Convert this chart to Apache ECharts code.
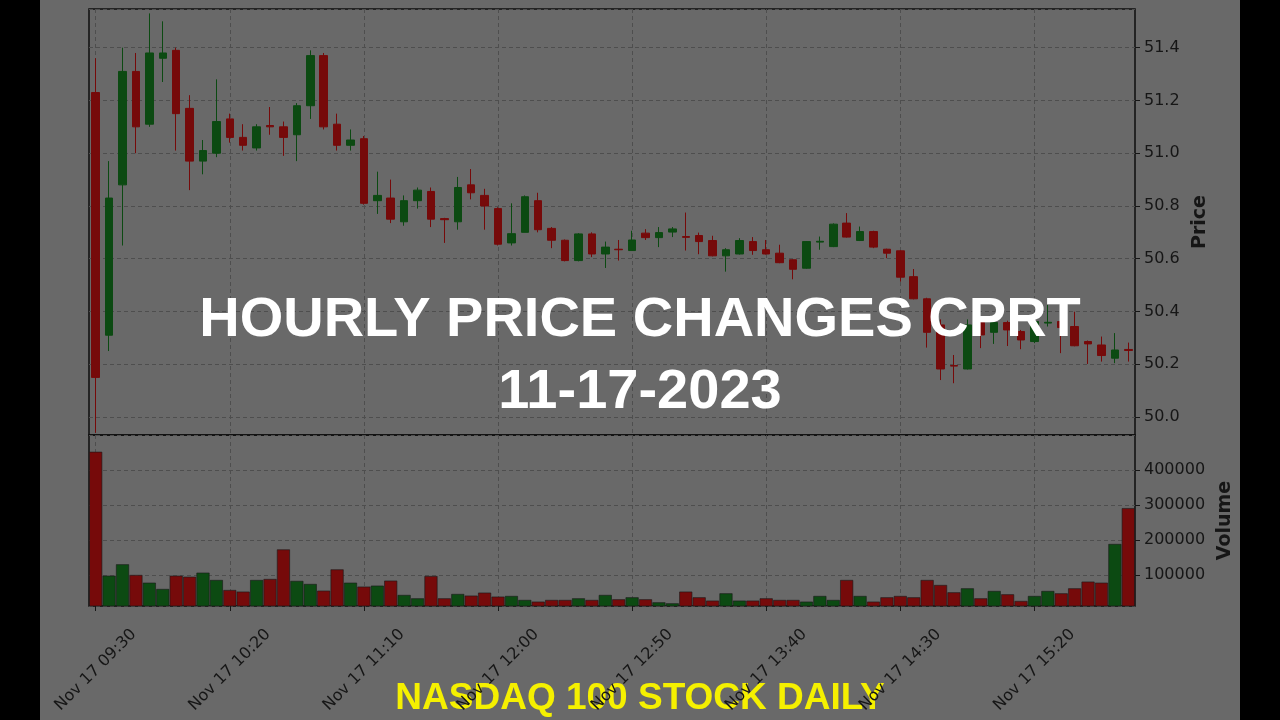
<!DOCTYPE html>
<html>
<head>
<meta charset="utf-8">
<script src="https://cdn.jsdelivr.net/npm/echarts@6/dist/echarts.min.js"></script>
<style>
html,body{margin:0;padding:0;background:#000;}
#c{width:1280px;height:720px;}
</style>
</head>
<body>
<div id="c"></div>
<script>
const times = ["09:30","09:35","09:40","09:45","09:50","09:55","10:00","10:05","10:10","10:15",
"10:20","10:25","10:30","10:35","10:40","10:45","10:50","10:55","11:00","11:05",
"11:10","11:15","11:20","11:25","11:30","11:35","11:40","11:45","11:50","11:55",
"12:00","12:05","12:10","12:15","12:20","12:25","12:30","12:35","12:40","12:45",
"12:50","12:55","13:00","13:05","13:10","13:15","13:20","13:25","13:30","13:35",
"13:40","13:45","13:50","13:55","14:00","14:05","14:10","14:15","14:20","14:25",
"14:30","14:35","14:40","14:45","14:50","14:55","15:00","15:05","15:10","15:15",
"15:20","15:25","15:30","15:35","15:40","15:45","15:50","15:55"];
const categories = times.map(t => "Nov 17 " + t);

const opens = [51.23,50.31,50.88,51.31,51.11,51.36,51.39,51.17,50.97,51.00,
51.13,51.06,51.02,51.105,51.10,51.07,51.18,51.37,51.11,51.03,
51.055,50.82,50.83,50.74,50.82,50.855,50.752,50.74,50.88,50.84,
50.79,50.66,50.70,50.82,50.715,50.67,50.593,50.694,50.618,50.636,
50.631,50.697,50.680,50.701,50.684,50.688,50.669,50.611,50.618,50.665,
50.634,50.621,50.596,50.564,50.663,50.646,50.735,50.669,50.703,50.636,
50.630,50.532,50.448,50.349,50.195,50.182,50.358,50.321,50.358,50.324,
50.286,50.356,50.362,50.343,50.286,50.273,50.223,50.256];
const closes = [50.15,50.83,51.31,51.10,51.38,51.38,51.15,50.97,51.01,51.12,
51.06,51.03,51.10,51.10,51.06,51.18,51.37,51.10,51.03,51.05,
50.81,50.84,50.75,50.82,50.86,50.75,50.748,50.87,50.85,50.80,
50.655,50.695,50.835,50.71,50.67,50.593,50.694,50.618,50.644,50.634,
50.671,50.680,50.699,50.713,50.681,50.665,50.611,50.634,50.669,50.631,
50.618,50.585,50.560,50.665,50.666,50.731,50.682,50.703,50.644,50.621,
50.530,50.448,50.321,50.182,50.193,50.349,50.311,50.358,50.330,50.292,
50.362,50.359,50.339,50.270,50.277,50.233,50.254,50.252];
const lows = [49.94,50.25,50.65,51.00,51.10,51.27,51.01,50.86,50.92,50.985,
51.04,51.01,51.01,51.07,50.99,50.97,51.13,51.09,51.01,51.01,
50.805,50.77,50.735,50.725,50.79,50.72,50.66,50.71,50.825,50.71,
50.65,50.65,50.70,50.70,50.64,50.59,50.59,50.606,50.565,50.593,
50.631,50.671,50.644,50.682,50.631,50.617,50.609,50.551,50.616,50.615,
50.616,50.583,50.522,50.562,50.634,50.644,50.680,50.667,50.640,50.602,
50.513,50.446,50.263,50.140,50.128,50.180,50.261,50.277,50.269,50.257,
50.280,50.343,50.242,50.268,50.201,50.210,50.204,50.210];
const highs = [51.36,50.97,51.40,51.38,51.53,51.50,51.40,51.22,51.05,51.28,
51.15,51.11,51.11,51.175,51.12,51.19,51.39,51.38,51.15,51.09,
51.065,50.93,50.90,50.84,50.87,50.87,50.755,50.91,50.94,50.865,
50.795,50.81,50.84,50.85,50.72,50.673,50.697,50.70,50.665,50.671,
50.706,50.712,50.72,50.72,50.775,50.699,50.687,50.640,50.678,50.682,
50.671,50.653,50.598,50.667,50.684,50.734,50.773,50.722,50.706,50.638,
50.632,50.561,50.452,50.37,50.235,50.37,50.37,50.37,50.365,50.33,
50.37,50.425,50.37,50.399,50.29,50.305,50.318,50.282];
const volumes = [452000,98000,130500,100000,78000,60000,98000,95000,106600,85700,
57000,52400,85700,88600,173000,83000,74300,55200,116000,78000,
66700,69500,83800,42900,33300,97000,33300,45700,41000,49500,
38100,40000,28600,23800,28600,28600,33300,28600,42900,30500,
36200,30500,21900,19000,52400,36200,26700,47600,26700,26700,
33300,28600,28600,23800,40000,28600,85700,40000,23800,36200,
40000,36200,85700,71400,50500,61900,33300,54300,44800,25700,
40000,54300,47600,61900,81000,78000,188600,291000];
const priceTicks = ["50.0","50.2","50.4","50.6","50.8","51.0","51.2","51.4"];
const titleLine1 = "HOURLY PRICE CHANGES CPRT";
const titleLine2 = "11-17-2023";
const footer = "NASDAQ 100 STOCK DAILY";

const UP = '#0c4a12';
const DOWN = '#760a0a';
const TXT = '#161616';
const GRIDC = '#4e4e4e';

const candleData = opens.map((o, i) => [o, closes[i], lows[i], highs[i]]);
const volData = volumes.map((v, i) => ({
  value: v,
  itemStyle: { color: closes[i] >= opens[i] ? UP : DOWN }
}));

const chart = echarts.init(document.getElementById('c'), null, { renderer: 'canvas' });
const font = 'DejaVu Sans';
const gridSplit = { show: true, interval: 9, alignWithLabel: true, lineStyle: { color: GRIDC, type: [4, 3], width: 1 } };
chart.setOption({
  backgroundColor: '#696969',
  animation: false,
  grid: [
    { left: 89, right: 145, top: 9, height: 426, show: true, borderColor: '#0e0e0e', borderWidth: 1.5, backgroundColor: 'transparent' },
    { left: 89, right: 145, top: 435, height: 171, show: true, borderColor: '#0e0e0e', borderWidth: 1.5, backgroundColor: 'transparent' }
  ],
  xAxis: [
    {
      type: 'category', data: categories, boundaryGap: true, gridIndex: 0,
      axisLine: { show: false }, axisTick: { show: false }, axisLabel: { show: false },
      splitLine: gridSplit
    },
    {
      type: 'category', data: categories, boundaryGap: true, gridIndex: 1,
      axisLine: { show: false }, axisTick: { show: false }, axisLabel: { show: false },
      splitLine: gridSplit
    },
    {
      type: 'category', data: categories, boundaryGap: true, gridIndex: 1,
      position: 'bottom', offset: 0, z: 10,
      axisLine: { show: false },
      splitLine: { show: false },
      axisTick: { show: true, interval: 9, alignWithLabel: true, length: 5, lineStyle: { color: TXT, width: 1 } },
      axisLabel: {
        show: true, interval: 9, rotate: 45, margin: 64,
        align: 'center', verticalAlign: 'middle',
        color: TXT, fontFamily: font, fontSize: 16
      }
    }
  ],
  yAxis: [
    {
      type: 'value', gridIndex: 0, position: 'right', scale: true,
      min: 49.9317, max: 51.5467, splitNumber: 8,
      name: 'Price', nameLocation: 'middle', nameGap: 50, nameRotate: 90,
      nameTextStyle: { color: TXT, fontFamily: font, fontSize: 19, fontWeight: 'bold' },
      axisLine: { show: false },
      axisTick: { show: true, length: 5, lineStyle: { color: TXT } },
      axisLabel: {
        color: TXT, fontFamily: font, fontSize: 16, margin: 9,
        showMinLabel: false, showMaxLabel: false,
        formatter: v => { const s = v.toFixed(1); return priceTicks.indexOf(s) >= 0 && Math.abs(v - parseFloat(s)) < 1e-6 ? s : ''; }
      },
      splitLine: { show: true, lineStyle: { color: GRIDC, type: [4, 3], width: 1 } }
    },
    {
      type: 'value', gridIndex: 1, position: 'right',
      min: 11400, max: 500000, splitNumber: 5,
      name: 'Volume', nameLocation: 'middle', nameGap: 72, nameRotate: 90,
      nameTextStyle: { color: TXT, fontFamily: font, fontSize: 19, fontWeight: 'bold' },
      axisLine: { show: false },
      axisTick: { show: true, length: 5, lineStyle: { color: TXT } },
      axisLabel: {
        color: TXT, fontFamily: font, fontSize: 16, margin: 9,
        showMinLabel: false, showMaxLabel: false,
        formatter: v => (v % 100000 === 0 && v > 0 && v < 500000) ? String(v) : ''
      },
      splitLine: { show: true, lineStyle: { color: GRIDC, type: [4, 3], width: 1 } }
    }
  ],
  series: [
    {
      type: 'candlestick', xAxisIndex: 0, yAxisIndex: 0,
      data: candleData, barWidth: 8,
      itemStyle: { color: UP, color0: DOWN, borderColor: UP, borderColor0: DOWN, borderWidth: 1 }
    },
    {
      type: 'bar', xAxisIndex: 1, yAxisIndex: 1,
      data: volData, barCategoryGap: '3%',
      itemStyle: { borderColor: '#1a1a1a', borderWidth: 0.6 }
    }
  ],
  graphic: [
    { type: 'rect', shape: { x: 0, y: 0, width: 40, height: 720 }, style: { fill: '#000' }, z: 100 },
    { type: 'rect', shape: { x: 1240, y: 0, width: 40, height: 720 }, style: { fill: '#000' }, z: 100 },
    { type: 'text', x: 640, y: 321, z: 100, style: { text: titleLine1, align: 'center', verticalAlign: 'middle', fill: '#ffffff', font: 'bold 56px "Liberation Sans", Arial, sans-serif' } },
    { type: 'text', x: 640, y: 393, z: 100, style: { text: titleLine2, align: 'center', verticalAlign: 'middle', fill: '#ffffff', font: 'bold 56px "Liberation Sans", Arial, sans-serif' } },
    { type: 'text', x: 640, y: 699, z: -1, style: { text: footer, align: 'center', verticalAlign: 'middle', fill: '#f5f000', font: 'bold 37px "Liberation Sans", Arial, sans-serif' } }
  ]
});
</script>
</body>
</html>
